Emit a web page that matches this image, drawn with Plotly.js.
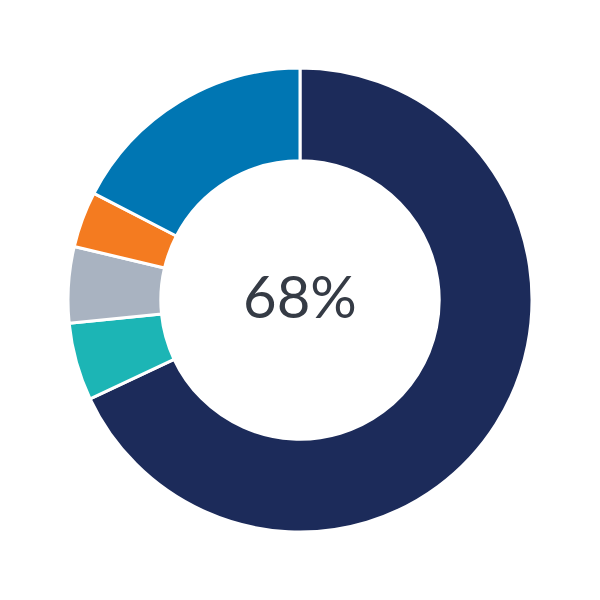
<!DOCTYPE html>
<html>
<head>
<meta charset="utf-8">
<script src="https://cdn.plot.ly/plotly-3.0.1.min.js"></script>
<style>html,body{margin:0;padding:0;background:#fff;}#chart{width:600px;height:600px;}</style>
</head>
<body>
<div id="chart"></div>
<script>
const labels = ["Navy", "Teal", "Gray", "Orange", "Blue"];
const values = [68, 5.4, 5.3, 3.9, 17.4];
const colors = ["#1c2b5a", "#1cb5b5", "#a9b3c1", "#f47b20", "#0076b3"];
const centerText = "68%";

Plotly.newPlot("chart", [{
  type: "pie",
  labels: labels,
  values: values,
  hole: 0.6,
  sort: false,
  direction: "clockwise",
  rotation: 0,
  textinfo: "none",
  hoverinfo: "none",
  marker: {colors: colors, line: {color: "#ffffff", width: 3}}
}], {
  width: 600, height: 600,
  margin: {l: 68, r: 68, t: 68, b: 68},
  showlegend: false,
  paper_bgcolor: "#ffffff",
  annotations: [{
    text: centerText, x: 0.5, y: 0.5, xref: "paper", yref: "paper",
    showarrow: false, yshift: 5,
    font: {family: "Lato", size: 58, color: "#353b45", weight: 400}
  }]
}, {staticPlot: true});
</script>
</body>
</html>
